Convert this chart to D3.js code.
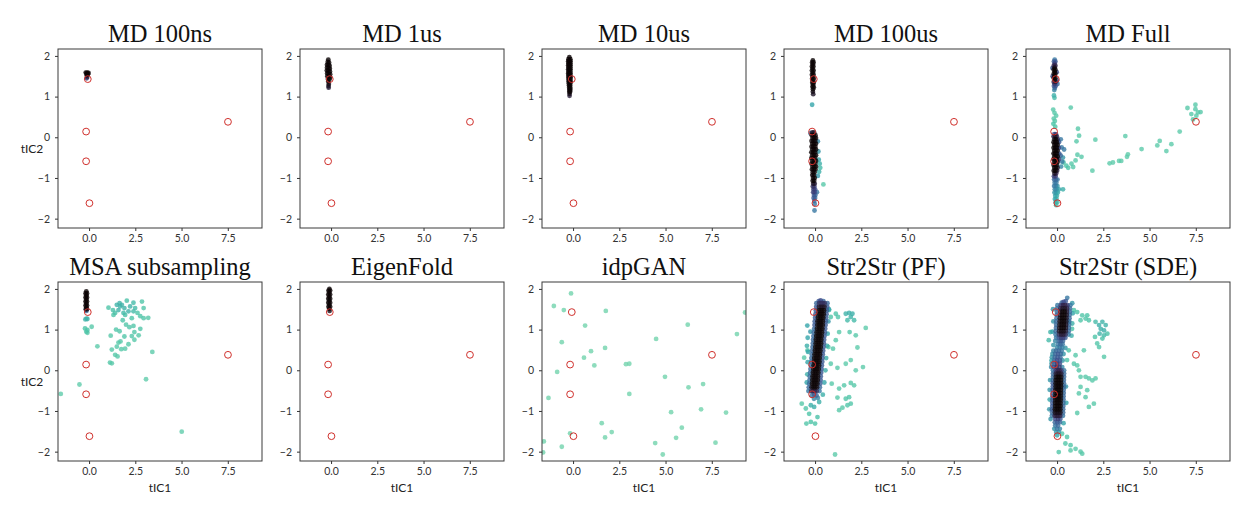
<!DOCTYPE html>
<html>
<head>
<meta charset="utf-8">
<script src="https://cdn.jsdelivr.net/npm/d3@7"></script>
<style>
body { margin: 0; background: #fff; }
</style>
</head>
<body>
<div id="chart"></div>
<script>
// panel titles, in reading order
var titles = ['MD 100ns', 'MD 1us', 'MD 10us', 'MD 100us', 'MD Full',
  'MSA subsampling', 'EigenFold', 'idpGAN', 'Str2Str (PF)', 'Str2Str (SDE)'];

var xTicks = [0, 2.5, 5, 7.5];
var yTicks = [-2, -1, 0, 1, 2];

// reference structures (red open circles), same in every panel
var refX = [-0.07, -0.16, -0.16, 0.02, 7.51];
var refY = [1.43, 0.14, -0.59, -1.62, 0.38];

// samples: [tIC1, tIC2, density level] (0 = densest/black, 1 = sparse/light green)
var md100ns = [[-0.18,1.59,0],[-0.1,1.59,0],[-0.03,1.58,0],[-0.14,1.56,0],[-0.06,1.55,0],
  [-0.12,1.52,0.05],[-0.1,1.48,0.2],[-0.13,1.45,0.3]];

var md1us = [[-0.15,1.91,0],[-0.18,1.85,0],[-0.11,1.84,0],[-0.22,1.78,0],[-0.14,1.78,0],[-0.08,1.76,0],
  [-0.22,1.71,0],[-0.14,1.7,0],[-0.07,1.69,0],[-0.23,1.64,0],[-0.15,1.63,0],[-0.06,1.62,0],
  [-0.21,1.57,0],[-0.13,1.56,0],[-0.05,1.55,0],[-0.2,1.5,0],[-0.11,1.49,0],[-0.05,1.47,0],
  [-0.17,1.43,0],[-0.09,1.42,0],[-0.15,1.37,0],[-0.12,1.31,0.05],[-0.14,1.26,0.1],[-0.13,1.22,0.15]];

var md10us = [[-0.2,1.97,0],[-0.25,1.92,0],[-0.15,1.92,0],[-0.26,1.87,0],[-0.2,1.87,0],[-0.14,1.87,0],
  [-0.25,1.82,0],[-0.15,1.82,0],[-0.26,1.77,0],[-0.2,1.77,0],[-0.14,1.77,0],[-0.25,1.72,0],[-0.15,1.72,0],
  [-0.26,1.67,0],[-0.2,1.67,0],[-0.14,1.67,0],[-0.25,1.62,0],[-0.15,1.62,0],[-0.26,1.57,0],[-0.2,1.57,0],
  [-0.14,1.57,0],[-0.25,1.52,0],[-0.15,1.52,0],[-0.25,1.47,0],[-0.19,1.47,0],[-0.13,1.47,0],
  [-0.24,1.42,0],[-0.15,1.42,0],[-0.24,1.37,0],[-0.18,1.37,0],[-0.13,1.37,0],[-0.23,1.32,0],[-0.15,1.32,0],
  [-0.22,1.27,0],[-0.16,1.27,0],[-0.21,1.22,0],[-0.15,1.22,0],[-0.2,1.17,0],[-0.15,1.17,0],
  [-0.2,1.12,0],[-0.16,1.12,0],[-0.19,1.07,0.05],[-0.19,1.02,0.15]];

var md100us = [[-0.12,1.89,0],[-0.16,1.84,0],[-0.08,1.84,0],[-0.12,1.79,0],[-0.17,1.74,0],[-0.09,1.74,0],
  [-0.13,1.69,0],[-0.17,1.64,0],[-0.08,1.64,0],[-0.12,1.59,0],[-0.17,1.54,0],[-0.08,1.54,0],
  [-0.12,1.49,0],[-0.16,1.44,0],[-0.07,1.44,0],[-0.12,1.39,0],[-0.15,1.34,0],[-0.07,1.34,0],
  [-0.11,1.29,0],[-0.14,1.24,0],[-0.07,1.23,0],[-0.11,1.18,0],[-0.12,1.12,0.05],[-0.1,1.06,0.1],
  [-0.16,0.8,0.65],
  [-0.15,0.12,0.1],[-0.05,0.12,0.1],[-0.18,0.05,0],[-0.08,0.05,0],[0.02,0.05,0],
  [-0.14,-0.02,0],[-0.04,-0.02,0],[0.05,-0.02,0],[-0.19,-0.09,0],[-0.09,-0.09,0],[0.01,-0.09,0],
  [-0.15,-0.16,0],[-0.05,-0.16,0],[0.05,-0.16,0],[-0.19,-0.23,0],[-0.09,-0.23,0],[0.01,-0.23,0],
  [-0.15,-0.3,0],[-0.05,-0.3,0],[0.05,-0.3,0],[-0.2,-0.37,0],[-0.1,-0.37,0],[0.0,-0.37,0],
  [-0.15,-0.44,0],[-0.05,-0.44,0],[0.05,-0.44,0],[-0.2,-0.51,0],[-0.1,-0.51,0],[0.0,-0.51,0],
  [-0.15,-0.58,0],[-0.05,-0.58,0],[0.05,-0.58,0],[-0.19,-0.65,0],[-0.09,-0.65,0],[0.01,-0.65,0],
  [-0.14,-0.72,0],[-0.04,-0.72,0],[0.05,-0.72,0],[-0.17,-0.79,0],[-0.07,-0.79,0],[0.02,-0.79,0],
  [-0.12,-0.86,0],[-0.03,-0.86,0],[-0.15,-0.93,0],[-0.06,-0.93,0],[-0.11,-1.0,0],[-0.02,-1.0,0],
  [-0.13,-1.07,0],[-0.05,-1.07,0],[-0.1,-1.14,0.1],[-0.02,-1.14,0.15],[-0.12,-1.21,0.25],[-0.04,-1.21,0.3],
  [-0.08,-1.28,0.3],[0.0,-1.28,0.35],[-0.1,-1.35,0.3],[-0.02,-1.35,0.35],[-0.06,-1.42,0.4],[0.02,-1.42,0.45],
  [-0.08,-1.49,0.4],[0.0,-1.49,0.45],[-0.04,-1.56,0.45],[-0.02,-1.64,0.5],[-0.03,-1.8,0.5],
  [0.15,-0.1,0.55],[0.18,-0.35,0.6],[0.2,-0.55,0.65],[0.25,-0.65,0.7],[0.28,-0.75,0.75],
  [0.22,-0.85,0.7],[0.15,-0.95,0.6],[0.45,-1.16,0.85],[0.1,-1.35,0.5],[-0.25,0.1,0.5]];

var mdFull = [[-0.13,1.91,0.5],[-0.17,1.86,0.4],[-0.09,1.86,0.4],[-0.13,1.81,0.3],[-0.18,1.76,0.2],[-0.09,1.76,0.2],
  [-0.13,1.71,0.05],[-0.18,1.66,0],[-0.09,1.66,0],[-0.13,1.61,0],[-0.18,1.56,0],[-0.09,1.56,0],
  [-0.13,1.51,0],[-0.18,1.46,0],[-0.09,1.46,0],[-0.13,1.41,0.05],[-0.18,1.36,0.2],[-0.08,1.36,0.15],
  [-0.13,1.31,0.3],[0.02,1.31,0.45],[-0.17,1.26,0.4],[-0.08,1.26,0.4],[-0.12,1.21,0.45],[-0.15,1.16,0.55],
  [-0.25,1.7,0.4],[-0.02,1.6,0.35],[-0.24,1.5,0.35],[0.0,1.4,0.4],
  [-0.17,1.03,0.7],[-0.14,0.97,0.75],[-0.21,0.68,0.85],[-0.14,0.6,0.85],[-0.05,0.53,0.85],
  [-0.18,0.46,0.85],[-0.12,0.4,0.85],[-0.2,0.33,0.8],[-0.1,0.26,0.8],
  [-0.15,0.08,0.35],[-0.06,0.08,0.3],[-0.19,0.02,0.2],[-0.1,0.02,0.1],[-0.01,0.02,0.2],
  [-0.15,-0.05,0.05],[-0.06,-0.05,0],[0.03,-0.05,0.25],[-0.19,-0.12,0],[-0.1,-0.12,0],[-0.01,-0.12,0],[0.1,-0.12,0.4],
  [-0.15,-0.19,0],[-0.06,-0.19,0],[0.03,-0.19,0],[-0.19,-0.26,0],[-0.1,-0.26,0],[-0.01,-0.26,0],[0.1,-0.26,0.35],
  [-0.15,-0.33,0],[-0.06,-0.33,0],[0.03,-0.33,0],[-0.19,-0.4,0],[-0.1,-0.4,0],[-0.01,-0.4,0],[0.12,-0.4,0.4],
  [-0.15,-0.47,0],[-0.06,-0.47,0],[0.03,-0.47,0],[-0.19,-0.54,0],[-0.1,-0.54,0],[-0.01,-0.54,0],[0.1,-0.54,0.3],
  [-0.15,-0.61,0],[-0.06,-0.61,0],[0.03,-0.61,0],[-0.19,-0.68,0],[-0.1,-0.68,0],[-0.01,-0.68,0],
  [-0.15,-0.75,0],[-0.06,-0.75,0],[0.03,-0.75,0.1],[-0.18,-0.82,0],[-0.09,-0.82,0],[0.0,-0.82,0.15],
  [-0.14,-0.89,0.1],[-0.05,-0.89,0.2],[-0.17,-0.96,0.3],[-0.08,-0.96,0.3],
  [0.2,-0.05,0.5],[0.25,-0.25,0.5],[0.38,-0.3,0.5],[0.2,-0.45,0.45],[0.28,-0.6,0.5],[0.22,-0.72,0.55],[0.32,-0.5,0.6],
  [-0.16,-1.04,0.45],[-0.07,-1.04,0.45],[0.02,-1.04,0.5],[-0.13,-1.12,0.5],[-0.04,-1.12,0.5],
  [-0.16,-1.2,0.5],[-0.07,-1.2,0.55],[0.02,-1.2,0.6],[-0.12,-1.28,0.55],[-0.03,-1.28,0.6],[0.1,-1.28,0.65],
  [-0.14,-1.36,0.6],[-0.05,-1.36,0.65],[0.04,-1.36,0.65],[-0.1,-1.44,0.65],[-0.01,-1.44,0.7],
  [-0.12,-1.52,0.65],[-0.03,-1.52,0.7],[-0.08,-1.6,0.7],[0.01,-1.6,0.75],[-0.05,-1.67,0.75],[0.32,-1.28,0.7],
  [0.74,0.73,0.85],[1.13,0.21,0.85],[1.19,0.04,0.85],[1.05,-0.1,0.85],[2.07,-0.06,0.88],[1.1,-0.43,0.85],
  [1.32,-0.48,0.85],[1.0,-0.57,0.85],[0.78,-0.65,0.85],[0.87,-0.73,0.85],[0.6,-0.75,0.8],[0.35,-0.62,0.8],
  [0.5,-0.7,0.8],[1.91,-0.82,0.88],[2.84,-0.64,0.88],[3.02,-0.62,0.88],[3.35,-0.58,0.88],[3.47,-0.58,0.88],
  [3.69,0.03,0.88],[3.78,-0.48,0.88],[3.83,-0.42,0.88],[4.57,-0.29,0.88],[5.42,-0.2,0.88],[5.55,-0.09,0.88],
  [5.91,-0.34,0.88],[6.18,-0.17,0.88],[6.63,0.14,0.88],[7.05,0.72,0.85],[7.48,0.8,0.85],[7.48,0.69,0.85],
  [7.62,0.61,0.85],[7.76,0.62,0.85],[7.35,0.44,0.85],[7.26,0.57,0.85],[7.53,0.53,0.85]];

var msaSub = [[-0.15,1.94,0],[-0.19,1.89,0],[-0.11,1.89,0],[-0.15,1.84,0],[-0.19,1.79,0],[-0.11,1.79,0],
  [-0.15,1.74,0],[-0.19,1.69,0],[-0.11,1.69,0],[-0.15,1.64,0],[-0.19,1.59,0],[-0.11,1.59,0],
  [-0.15,1.54,0],[-0.18,1.5,0.05],[-0.11,1.5,0.05],[-0.14,1.46,0.45],
  [-0.14,1.27,0.72],[-0.2,1.25,0.72],[-0.09,1.26,0.72],[-0.22,1.03,0.8],[-0.09,0.99,0.8],
  [-0.15,0.95,0.8],[-0.09,0.92,0.85],[0.14,1.07,0.85],[0.45,0.59,0.88],[-0.52,-0.35,0.9],
  [-1.53,-0.58,0.9],[5.01,-1.51,0.9],[3.08,-0.22,0.9],[3.42,0.45,0.88],[3.2,1.29,0.85],
  [1.05,1.54,0.8],[1.29,1.48,0.78],[1.5,1.61,0.72],[1.65,1.65,0.72],[1.77,1.61,0.72],[1.91,1.53,0.72],
  [2.04,1.71,0.78],[2.22,1.57,0.72],[2.4,1.66,0.75],[2.49,1.53,0.75],[2.4,1.45,0.75],[2.13,1.45,0.72],
  [1.86,1.41,0.75],[1.59,1.48,0.72],[1.41,1.41,0.78],[1.68,1.57,0.72],[2.62,1.41,0.8],[2.77,1.33,0.8],
  [2.95,1.28,0.82],[2.86,1.69,0.82],[2.31,1.28,0.8],[1.82,1.23,0.8],[1.95,1.36,0.78],[1.32,1.36,0.8],
  [1.46,1.0,0.82],[1.65,0.96,0.82],[2.0,1.12,0.82],[2.18,1.06,0.82],[2.4,1.09,0.82],[2.45,0.94,0.82],
  [2.31,0.84,0.82],[1.91,0.83,0.82],[2.45,0.75,0.85],[2.13,0.64,0.85],[1.59,0.68,0.85],[1.74,0.52,0.85],
  [1.95,0.53,0.85],[1.5,0.58,0.85],[1.23,0.51,0.85],[1.41,0.38,0.85],[1.54,0.34,0.85],[1.23,0.17,0.85],
  [1.13,0.19,0.85],[1.7,0.71,0.85],[2.77,1.02,0.82],[2.68,0.86,0.85],[2.95,1.53,0.82],[1.17,0.85,0.85]];

var eigenFold = [[-0.09,2.0,0],[-0.14,1.96,0],[-0.05,1.96,0],[-0.1,1.91,0],[-0.15,1.86,0],[-0.05,1.86,0],
  [-0.1,1.81,0],[-0.15,1.76,0],[-0.05,1.76,0],[-0.1,1.71,0],[-0.15,1.66,0],[-0.05,1.66,0],
  [-0.1,1.61,0],[-0.14,1.56,0],[-0.05,1.56,0],[-0.1,1.51,0],[-0.08,1.46,0.05]];

var idpGAN = [[-0.11,1.89,1],[-1.04,1.58,1],[-0.5,1.48,1],[1.77,1.46,1],[0.65,1.1,1],[6.2,1.12,1],
  [8.86,0.89,1],[4.49,0.77,1],[-0.61,0.69,1],[1.73,0.55,1],[0.97,0.47,1],[0.59,0.31,1],[1.15,0.12,1],
  [2.86,0.15,1],[3.04,0.16,1],[-0.86,-0.04,1],[4.97,-0.16,1],[7.03,-0.34,1],[6.24,-0.42,1],[3.04,-0.58,1],
  [-1.33,-0.68,1],[6.92,-0.96,1],[5.3,-1.03,1],[8.27,-1.04,1],[1.55,-1.3,1],[5.88,-1.41,1],[2.09,-1.52,1],
  [-0.16,-1.55,1],[1.73,-1.65,1],[5.57,-1.66,1],[-1.58,-1.75,1],[4.44,-1.79,1],[7.7,-1.78,1],
  [-0.61,-1.88,1],[-1.62,-2.02,1],[4.85,-2.07,1],[9.3,1.42,1]];

var str2strPF = [
  [0.07,1.65,0.45],[0.22,1.65,0.25],[0.32,1.65,0.25],[0.42,1.65,0.25],[0.52,1.65,0.25],[0.67,1.65,0.45],
  [0.06,1.56,0.4],[0.21,1.56,0.1],[0.31,1.56,0.1],[0.41,1.56,0.1],[0.51,1.56,0.1],[0.66,1.56,0.4],
  [0.04,1.47,0.4],[0.19,1.47,0],[0.29,1.47,0],[0.39,1.47,0],[0.49,1.47,0],[0.64,1.47,0.4],
  [0.02,1.38,0.4],[0.17,1.38,0],[0.27,1.38,0],[0.37,1.38,0],[0.47,1.38,0],[0.62,1.38,0.4],
  [0.0,1.29,0.4],[0.15,1.29,0],[0.25,1.29,0],[0.35,1.29,0],[0.45,1.29,0],[0.6,1.29,0.4],
  [-0.02,1.2,0.4],[0.13,1.2,0],[0.23,1.2,0],[0.33,1.2,0],[0.43,1.2,0],[0.58,1.2,0.4],
  [-0.03,1.11,0.4],[0.12,1.11,0],[0.22,1.11,0],[0.32,1.11,0],[0.42,1.11,0],[0.57,1.11,0.4],
  [-0.05,1.02,0.45],[0.1,1.02,0],[0.2,1.02,0],[0.3,1.02,0],[0.4,1.02,0],[0.55,1.02,0.4],
  [-0.07,0.93,0.45],[0.08,0.93,0],[0.18,0.93,0],[0.28,0.93,0],[0.38,0.93,0],[0.53,0.93,0.4],
  [-0.09,0.84,0.45],[0.06,0.84,0],[0.16,0.84,0],[0.26,0.84,0],[0.36,0.84,0],[0.51,0.84,0.4],
  [-0.11,0.75,0.45],[0.04,0.75,0],[0.14,0.75,0],[0.24,0.75,0],[0.34,0.75,0],[0.49,0.75,0.4],
  [-0.12,0.66,0.45],[0.03,0.66,0],[0.13,0.66,0],[0.23,0.66,0],[0.33,0.66,0],[0.48,0.66,0.4],
  [-0.14,0.57,0.45],[0.01,0.57,0],[0.11,0.57,0],[0.21,0.57,0],[0.31,0.57,0],[0.46,0.57,0.4],
  [-0.16,0.48,0.45],[-0.01,0.48,0],[0.09,0.48,0],[0.19,0.48,0],[0.29,0.48,0],[0.44,0.48,0.4],
  [-0.18,0.39,0.45],[-0.03,0.39,0],[0.07,0.39,0],[0.17,0.39,0],[0.27,0.39,0],[0.42,0.39,0.4],
  [-0.2,0.3,0.45],[-0.05,0.3,0],[0.05,0.3,0],[0.15,0.3,0],[0.25,0.3,0],[0.4,0.3,0.4],
  [-0.21,0.21,0.45],[-0.06,0.21,0],[0.04,0.21,0],[0.14,0.21,0],[0.24,0.21,0],[0.39,0.21,0.4],
  [-0.23,0.12,0.45],[-0.08,0.12,0],[0.02,0.12,0],[0.12,0.12,0],[0.22,0.12,0],[0.37,0.12,0.4],
  [-0.25,0.03,0.45],[-0.1,0.03,0],[0.0,0.03,0],[0.1,0.03,0],[0.2,0.03,0],[0.35,0.03,0.4],
  [-0.27,-0.06,0.45],[-0.12,-0.06,0],[-0.02,-0.06,0],[0.08,-0.06,0],[0.18,-0.06,0],[0.33,-0.06,0.4],
  [-0.29,-0.15,0.45],[-0.14,-0.15,0],[-0.04,-0.15,0],[0.06,-0.15,0],[0.16,-0.15,0],[0.31,-0.15,0.4],
  [-0.3,-0.24,0.45],[-0.15,-0.24,0],[-0.05,-0.24,0],[0.05,-0.24,0],[0.15,-0.24,0],[0.3,-0.24,0.4],
  [-0.32,-0.33,0.45],[-0.17,-0.33,0],[-0.07,-0.33,0],[0.03,-0.33,0],[0.13,-0.33,0],[0.28,-0.33,0.4],
  [-0.34,-0.42,0.45],[-0.19,-0.42,0.05],[-0.09,-0.42,0],[0.01,-0.42,0],[0.11,-0.42,0.05],[0.26,-0.42,0.45],
  [-0.36,-0.51,0.5],[-0.21,-0.51,0.2],[-0.11,-0.51,0.2],[-0.01,-0.51,0.2],[0.09,-0.51,0.25],[0.24,-0.51,0.5],
  [0.3,1.72,0.35],[0.2,1.7,0.4],[0.45,1.7,0.45],
  [-0.05,-0.6,0.4],[0.08,-0.62,0.45],[-0.18,-0.62,0.5],[0.15,-0.68,0.55],[-0.06,-0.7,0.55],
  [-0.42,1.1,0.65],[-0.4,0.8,0.65],[-0.44,0.6,0.7],[-0.38,0.45,0.65],[-0.4,0.2,0.65],[-0.42,-0.1,0.7],
  [-0.45,-0.3,0.65],[-0.25,0.95,0.6],[0.75,1.5,0.65],[0.72,1.2,0.6],[0.68,0.9,0.65],[0.65,0.6,0.7],
  [0.6,0.3,0.7],[0.56,0.0,0.7],[0.5,-0.3,0.65],[0.42,-0.6,0.7],
  [1.66,1.39,0.72],[1.84,1.41,0.7],[2.02,1.39,0.7],[1.93,1.31,0.72],[1.75,1.23,0.75],[2.11,1.23,0.75],
  [1.87,0.94,0.82],[2.2,0.86,0.85],[2.74,1.04,0.88],[2.29,0.56,0.88],[2.59,0.08,0.88],[2.2,0.0,0.88],
  [1.93,0.25,0.88],[1.66,0.16,0.88],[1.21,0.06,0.85],[0.85,0.16,0.85],[0.97,0.53,0.85],[0.72,0.57,0.82],
  [1.12,0.74,0.85],[1.3,0.94,0.85],[1.24,1.31,0.82],[1.12,1.39,0.8],[0.85,1.31,0.8],[0.76,1.48,0.78],
  [1.93,-0.31,0.85],[2.11,-0.37,0.85],[1.84,-0.66,0.82],[1.66,-0.7,0.82],[1.93,-0.82,0.82],
  [1.75,-0.86,0.82],[1.48,-0.92,0.85],[1.3,-0.98,0.85],[0.9,-0.33,0.85],[1.3,-0.45,0.85],
  [1.21,-0.67,0.85],[1.57,-0.37,0.85],[-0.59,0.31,0.85],[-0.41,0.49,0.8],[-0.72,-0.82,0.85],
  [-0.5,-0.94,0.82],[-0.32,-1.07,0.8],[-0.47,-1.31,0.82],[-0.23,-1.27,0.8],[0.0,-1.31,0.8],
  [0.13,-1.15,0.78],[1.08,-2.07,0.88],[-0.23,-0.86,0.7],[-0.05,-0.9,0.7],[0.22,-0.78,0.7]];

var str2strSDE = [
  [0.35,1.68,0.35],[0.47,1.7,0.4],[0.55,1.78,0.5],[0.25,1.66,0.45],
  [0.02,1.6,0.5],[0.2,1.6,0.3],[0.32,1.6,0.2],[0.44,1.6,0.2],[0.56,1.6,0.3],[0.72,1.6,0.5],
  [0.0,1.52,0.45],[0.18,1.52,0.2],[0.3,1.52,0.1],[0.42,1.52,0.1],[0.54,1.52,0.2],[0.7,1.52,0.45],
  [-0.01,1.44,0.45],[0.17,1.44,0.1],[0.29,1.44,0],[0.41,1.44,0],[0.53,1.44,0.15],[0.69,1.44,0.45],
  [-0.02,1.36,0.45],[0.16,1.36,0.1],[0.28,1.36,0],[0.4,1.36,0],[0.52,1.36,0.1],[0.68,1.36,0.45],
  [-0.03,1.28,0.45],[0.15,1.28,0.05],[0.27,1.28,0],[0.39,1.28,0],[0.51,1.28,0.1],[0.67,1.28,0.45],
  [-0.04,1.2,0.45],[0.14,1.2,0.05],[0.26,1.2,0],[0.38,1.2,0],[0.5,1.2,0.1],[0.66,1.2,0.45],
  [-0.05,1.12,0.45],[0.13,1.12,0.05],[0.25,1.12,0],[0.37,1.12,0],[0.49,1.12,0.1],[0.65,1.12,0.45],
  [-0.06,1.04,0.45],[0.12,1.04,0.05],[0.24,1.04,0],[0.36,1.04,0],[0.48,1.04,0.1],[0.64,1.04,0.45],
  [-0.07,0.96,0.45],[0.11,0.96,0.1],[0.23,0.96,0.05],[0.35,0.96,0.05],[0.47,0.96,0.15],[0.63,0.96,0.45],
  [-0.08,0.88,0.5],[0.1,0.88,0.25],[0.22,0.88,0.15],[0.34,0.88,0.15],[0.46,0.88,0.25],[0.62,0.88,0.5],
  [-0.05,0.8,0.5],[0.09,0.8,0.4],[0.21,0.8,0.3],[0.33,0.8,0.3],[0.45,0.8,0.4],
  [-0.1,0.72,0.55],[0.1,0.72,0.45],[0.2,0.72,0.4],[0.32,0.72,0.45],
  [0.05,0.64,0.5],[0.18,0.64,0.45],[0.3,0.64,0.5],[0.0,0.56,0.55],[0.15,0.56,0.5],[0.28,0.56,0.55],
  [-0.22,1.5,0.6],[-0.2,1.2,0.6],[-0.25,0.95,0.65],[0.82,1.65,0.6],[0.85,1.4,0.65],[0.82,1.15,0.7],
  [0.78,0.85,0.7],[-0.2,0.62,0.6],[0.45,0.55,0.6],
  [-0.2,0.48,0.55],[-0.05,0.48,0.45],[0.1,0.48,0.45],[0.25,0.48,0.5],
  [-0.25,0.4,0.6],[-0.1,0.4,0.45],[0.05,0.4,0.4],[0.2,0.4,0.45],[0.35,0.4,0.6],
  [-0.28,0.32,0.6],[-0.12,0.32,0.45],[0.03,0.32,0.4],[0.18,0.32,0.45],
  [-0.3,0.24,0.65],[-0.15,0.24,0.45],[0.0,0.24,0.35],[0.15,0.24,0.4],[0.3,0.24,0.6],
  [-0.3,0.16,0.6],[-0.15,0.16,0.4],[0.0,0.16,0.3],[0.15,0.16,0.35],
  [-0.32,0.08,0.55],[-0.17,0.08,0.35],[-0.02,0.08,0.25],[0.13,0.08,0.3],[0.28,0.08,0.55],
  [-0.22,0.0,0.5],[-0.07,0.0,0.3],[0.03,0.0,0.2],[0.13,0.0,0.2],[0.23,0.0,0.3],[0.38,0.0,0.5],
  [-0.22,-0.08,0.45],[-0.07,-0.08,0.15],[0.03,-0.08,0.1],[0.13,-0.08,0.1],[0.23,-0.08,0.15],[0.38,-0.08,0.45],
  [-0.22,-0.16,0.45],[-0.07,-0.16,0.05],[0.03,-0.16,0],[0.13,-0.16,0],[0.23,-0.16,0.05],[0.38,-0.16,0.45],
  [-0.23,-0.24,0.45],[-0.08,-0.24,0],[0.02,-0.24,0],[0.12,-0.24,0],[0.22,-0.24,0],[0.37,-0.24,0.45],
  [-0.23,-0.32,0.4],[-0.08,-0.32,0],[0.02,-0.32,0],[0.12,-0.32,0],[0.22,-0.32,0],[0.37,-0.32,0.45],
  [-0.23,-0.4,0.4],[-0.08,-0.4,0],[0.02,-0.4,0],[0.12,-0.4,0],[0.22,-0.4,0],[0.37,-0.4,0.45],
  [-0.24,-0.48,0.4],[-0.09,-0.48,0],[0.01,-0.48,0],[0.11,-0.48,0],[0.21,-0.48,0],[0.36,-0.48,0.45],
  [-0.24,-0.56,0.4],[-0.09,-0.56,0],[0.01,-0.56,0],[0.11,-0.56,0],[0.21,-0.56,0],[0.36,-0.56,0.45],
  [-0.25,-0.64,0.4],[-0.1,-0.64,0],[0.0,-0.64,0],[0.1,-0.64,0],[0.2,-0.64,0],[0.35,-0.64,0.45],
  [-0.25,-0.72,0.4],[-0.1,-0.72,0],[0.0,-0.72,0],[0.1,-0.72,0],[0.2,-0.72,0],[0.35,-0.72,0.45],
  [-0.26,-0.8,0.4],[-0.11,-0.8,0],[-0.01,-0.8,0],[0.09,-0.8,0],[0.19,-0.8,0],[0.34,-0.8,0.45],
  [-0.26,-0.88,0.4],[-0.11,-0.88,0],[-0.01,-0.88,0],[0.09,-0.88,0],[0.19,-0.88,0],[0.34,-0.88,0.45],
  [-0.27,-0.96,0.4],[-0.12,-0.96,0],[-0.02,-0.96,0],[0.08,-0.96,0],[0.18,-0.96,0],[0.33,-0.96,0.45],
  [-0.27,-1.04,0.45],[-0.12,-1.04,0.05],[-0.02,-1.04,0.05],[0.08,-1.04,0.05],[0.18,-1.04,0.05],[0.33,-1.04,0.45],
  [-0.28,-1.12,0.5],[-0.13,-1.12,0.2],[-0.03,-1.12,0.15],[0.07,-1.12,0.15],[0.17,-1.12,0.2],[0.32,-1.12,0.5],
  [-0.1,-1.2,0.35],[0.05,-1.2,0.3],[0.18,-1.2,0.4],[-0.12,-1.28,0.45],[0.02,-1.28,0.4],[0.15,-1.28,0.45],
  [-0.1,-1.36,0.5],[0.05,-1.36,0.45],[-0.15,-1.44,0.6],[0.0,-1.44,0.5],[0.15,-1.44,0.55],
  [-0.05,-1.52,0.6],[0.1,-1.52,0.6],[0.0,-1.6,0.65],
  [-0.38,-0.24,0.6],[-0.4,-0.48,0.6],[-0.4,-0.72,0.65],[-0.42,-0.96,0.6],[0.48,-0.4,0.6],
  [0.5,-0.8,0.65],[-0.35,-1.2,0.6],[0.35,-1.3,0.65],
  [0.91,1.48,0.8],[1.09,1.43,0.8],[1.36,1.35,0.82],[1.54,1.27,0.82],[1.72,1.23,0.8],[1.27,1.23,0.82],
  [1.63,1.35,0.8],[2.08,1.19,0.75],[2.27,1.11,0.7],[2.36,1.02,0.7],[2.54,0.98,0.7],[2.45,1.19,0.72],
  [2.63,1.11,0.72],[2.3,0.9,0.72],[2.54,0.86,0.75],[2.72,0.9,0.78],[2.45,0.78,0.78],[2.17,0.66,0.82],
  [2.27,0.57,0.82],[2.05,0.82,0.8],[2.54,0.33,0.85],[1.45,0.49,0.85],[1.0,0.37,0.85],[1.09,0.12,0.85],
  [1.18,0.0,0.85],[1.27,-0.16,0.85],[1.54,-0.16,0.85],[1.72,-0.2,0.85],[1.91,-0.25,0.85],[2.08,-0.2,0.85],
  [1.27,-0.41,0.85],[1.63,-0.49,0.85],[1.54,-0.66,0.85],[1.18,-0.57,0.85],[1.99,-0.82,0.85],
  [1.72,-0.9,0.85],[1.09,-1.05,0.85],[0.45,-1.8,0.82],[0.73,-1.84,0.82],[1.0,-1.93,0.85],
  [0.73,-1.97,0.85],[1.27,-2.0,0.85],[1.36,-2.05,0.85],[0.09,-2.01,0.82],[0.54,-1.64,0.8],
  [0.27,-1.56,0.8],[0.63,1.19,0.75],[0.81,1.02,0.78],[0.63,0.49,0.8],[0.54,0.25,0.8],[0.91,0.16,0.82],
  [-0.45,0.74,0.75],[-0.36,0.94,0.72]];

var panels = [md100ns, md1us, md10us, md100us, mdFull,
  msaSub, eigenFold, idpGAN, str2strPF, str2strSDE];

var fullWidth = 1246;
var fullHeight = 512;
var panelW = 204;
var panelH = 179;
var firstLeft = 58;
var stepX = 242;
var rowTops = [49, 282];

var x = d3.scaleLinear().domain([-1.68, 9.35]).range([0, panelW]);
var y = d3.scaleLinear().domain([-2.23, 2.17]).range([panelH, 0]);

// density colours, roughly a reversed "mako" ramp
var colour = d3.scaleLinear()
  .domain([0, 0.2, 0.35, 0.5, 0.65, 0.8, 1])
  .range(['#0b0405', '#2f2147', '#3c4a8a', '#3878a2', '#35a5aa', '#4ec4a8', '#72d3ad'])
  .clamp(true);

var refs = refX.map(function(v, i) { return {x: v, y: refY[i]}; });

var svg = d3.select('#chart').append('svg')
  .attr('width', fullWidth)
  .attr('height', fullHeight)
  .style('display', 'block');

svg.append('defs').append('clipPath')
  .attr('id', 'plotclip')
  .append('rect')
    .attr('width', panelW)
    .attr('height', panelH);

var tickFont = 'Lato, "DejaVu Sans", sans-serif';

panels.forEach(function(points, i) {
  var col = i % 5, row = Math.floor(i / 5);
  var g = svg.append('g')
    .attr('transform', 'translate(' + (firstLeft + col * stepX) + ',' + rowTops[row] + ')');

  // points, light ones first so the dense black cores sit on top
  var sorted = points.slice().sort(function(a, b) { return b[2] - a[2]; });
  g.append('g')
    .attr('clip-path', 'url(#plotclip)')
    .selectAll('circle.pt')
    .data(sorted)
    .enter().append('circle')
      .classed('pt', true)
      .attr('cx', function(d) { return x(d[0]); })
      .attr('cy', function(d) { return y(d[1]); })
      .attr('r', 2.4)
      .attr('fill', function(d) { return colour(d[2]); })
      .attr('fill-opacity', 0.8);

  g.append('g')
    .attr('clip-path', 'url(#plotclip)')
    .selectAll('circle.ref')
    .data(refs)
    .enter().append('circle')
      .classed('ref', true)
      .attr('cx', function(d) { return x(d.x); })
      .attr('cy', function(d) { return y(d.y); })
      .attr('r', 3.4)
      .attr('fill', 'none')
      .attr('stroke', '#d0302c')
      .attr('stroke-width', 1);

  var xAxis = d3.axisBottom(x).tickValues(xTicks).tickSize(3).tickPadding(3.5)
    .tickFormat(d3.format('.1f'));
  var yAxis = d3.axisLeft(y).tickValues(yTicks).tickSize(3).tickPadding(5)
    .tickFormat(function(d) { return d < 0 ? '\u2212' + Math.abs(d) : d; });

  var xa = g.append('g')
    .attr('transform', 'translate(0,' + panelH + ')')
    .call(xAxis);
  var ya = g.append('g').call(yAxis);

  [xa, ya].forEach(function(a) {
    a.select('.domain').remove();
    a.selectAll('line').attr('stroke', '#333');
    a.selectAll('text')
      .style('font-family', tickFont)
      .style('font-size', '10.5px')
      .attr('fill', '#333');
  });

  // frame
  g.append('rect')
    .attr('width', panelW)
    .attr('height', panelH)
    .attr('fill', 'none')
    .attr('stroke', '#3a3a3a')
    .attr('stroke-width', 1);

  g.append('text')
    .attr('x', panelW / 2)
    .attr('y', -7)
    .attr('text-anchor', 'middle')
    .style('font-family', '"Liberation Serif", "DejaVu Serif", serif')
    .style('font-size', '24.5px')
    .attr('fill', '#111')
    .text(titles[i]);

  if (row === 1) {
    g.append('text')
      .attr('x', panelW / 2)
      .attr('y', panelH + 31)
      .attr('text-anchor', 'middle')
      .style('font-family', tickFont)
      .style('font-size', '12px')
      .attr('fill', '#222')
      .text('tIC1');
  }
  if (col === 0) {
    // horizontal y label, tucked just left of the tick labels
    g.append('text')
      .attr('x', -26)
      .attr('y', panelH / 2 + 14)
      .attr('text-anchor', 'middle')
      .style('font-family', tickFont)
      .style('font-size', '12px')
      .attr('fill', '#222')
      .text('tIC2');
  }
});
</script>
</body>
</html>
